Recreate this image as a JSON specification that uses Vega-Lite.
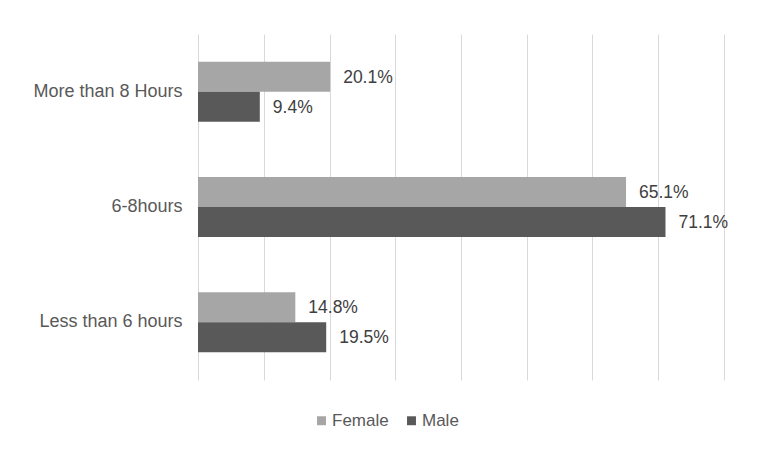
{
  "$schema": "https://vega.github.io/schema/vega-lite/v6.json",
  "width": 526,
  "height": 346,
  "autosize": {"type": "none"},
  "padding": {"left": 198, "top": 34, "right": 44, "bottom": 76},
  "background": "white",
  "data": {
    "values": [
      {"hours": "More than 8 Hours", "sex": "Female", "share": 0.201},
      {"hours": "More than 8 Hours", "sex": "Male", "share": 0.094},
      {"hours": "6-8hours", "sex": "Female", "share": 0.651},
      {"hours": "6-8hours", "sex": "Male", "share": 0.711},
      {"hours": "Less than 6 hours", "sex": "Female", "share": 0.148},
      {"hours": "Less than 6 hours", "sex": "Male", "share": 0.195}
    ]
  },
  "encoding": {
    "y": {
      "field": "hours",
      "type": "nominal",
      "sort": ["More than 8 Hours", "6-8hours", "Less than 6 hours"],
      "scale": {"paddingInner": 0.48, "paddingOuter": 0.24},
      "axis": {
        "title": null,
        "ticks": false,
        "domain": false,
        "labelFont": "Liberation Sans",
        "labelFontSize": 18,
        "labelColor": "#595959",
        "labelPadding": 16
      }
    },
    "yOffset": {
      "field": "sex",
      "type": "nominal",
      "sort": ["Female", "Male"]
    },
    "x": {
      "field": "share",
      "type": "quantitative",
      "scale": {"domain": [0, 0.8], "nice": false},
      "axis": {
        "title": null,
        "labels": false,
        "ticks": false,
        "domain": false,
        "values": [0, 0.1, 0.2, 0.3, 0.4, 0.5, 0.6, 0.7, 0.8],
        "grid": true,
        "gridColor": "#d9d9d9",
        "gridWidth": 1
      }
    }
  },
  "layer": [
    {
      "mark": {"type": "bar"},
      "encoding": {
        "color": {
          "field": "sex",
          "type": "nominal",
          "scale": {"domain": ["Female", "Male"], "range": ["#a6a6a6", "#595959"]},
          "legend": {
            "title": null,
            "orient": "none",
            "direction": "horizontal",
            "legendX": 115,
            "legendY": 378,
            "symbolType": "square",
            "symbolSize": 80,
            "symbolOffset": 0,
            "labelFont": "Liberation Sans",
            "labelFontSize": 17,
            "labelColor": "#595959",
            "labelOffset": 2,
            "columnPadding": 14
          }
        }
      }
    },
    {
      "mark": {
        "type": "text",
        "align": "left",
        "baseline": "middle",
        "dx": 13,
        "dy": 1,
        "font": "Liberation Sans",
        "fontSize": 17.5,
        "color": "#404040"
      },
      "encoding": {
        "text": {"field": "share", "type": "quantitative", "format": ".1%"}
      }
    }
  ],
  "config": {
    "view": {"stroke": null}
  }
}
